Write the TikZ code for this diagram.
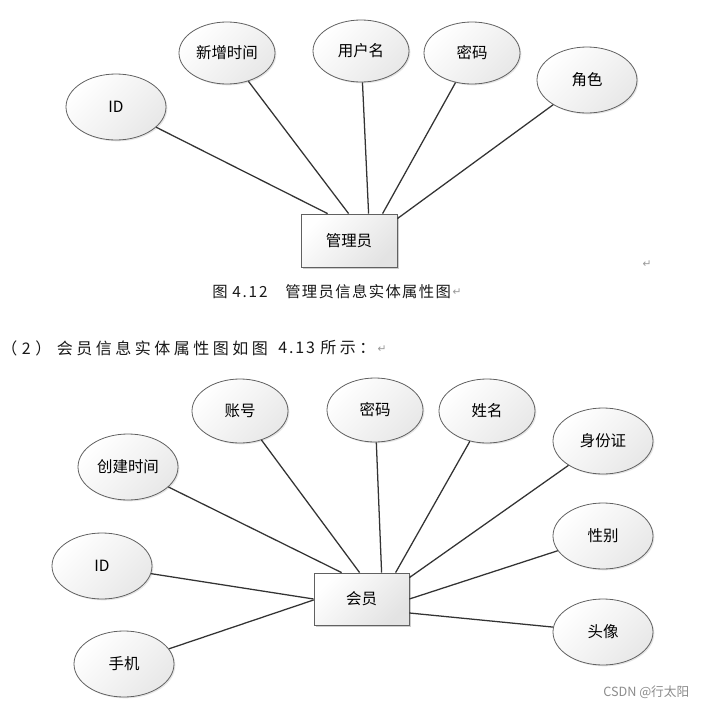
\documentclass[tikz,border=0pt]{standalone}
\usepackage{fontspec}
\setmainfont{Noto Sans CJK SC}
\newfontfamily\capfont[LetterSpace=9]{Noto Sans CJK SC}
\newfontfamily\bodyfont[LetterSpace=22]{Noto Sans CJK SC}
\newfontfamily\numfont[LetterSpace=12]{Noto Sans CJK SC}
\newfontfamily\symfont{DejaVu Sans}
\usetikzlibrary{shapes.geometric,shadows,calc}
\newcommand\lblfont{\fontsize{11.6pt}{13pt}\selectfont}
\begin{document}
\begin{tikzpicture}[x=0.75pt,y=-0.75pt,
  conn/.style={draw=black!80, line width=0.95pt},
  attr/.style={ellipse, draw=black!62, line width=0.6pt,
    minimum width=72pt, minimum height=46.5pt, inner sep=0pt,
    top color=white, bottom color=black!9, shading angle=45,
    drop shadow={shadow xshift=1pt,shadow yshift=-1pt,fill=black!22,opacity=0.45},
    font=\lblfont},
  attrm/.style={attr, minimum height=48pt},
  attrb/.style={attr, minimum width=75pt, minimum height=49.5pt},
  entity/.style={rectangle, draw=black!62, line width=0.6pt, inner sep=0pt,
    top color=white, bottom color=black!11, shading angle=45,
    drop shadow={shadow xshift=1.8pt,shadow yshift=-1.8pt,fill=black!35,opacity=0.55},
    font=\lblfont},
  txt/.style={anchor=west, inner sep=0pt, text=black!90},
  pmark/.style={inner sep=0pt, text=black!40, font=\symfont\fontsize{8pt}{9pt}\selectfont}
]
\useasboundingbox (0,0) rectangle (719,707);
\fill[white] (0,0) rectangle (719,707);

% ---------- diagram 4.12 ----------
\node[attrb] (aid)   at (116,107) {ID};
\node[attr]  (atime) at (227,53)  {新增时间};
\node[attr]  (auser) at (361,51)  {用户名};
\node[attr]  (apw)   at (472,53)  {密码};
\node[attrb] (arole) at (587,80)  {角色};
\node[entity, minimum width=72pt, minimum height=39.75pt] (admin) at (349,240.5) {管理员};

\draw[conn] (aid)   -- ($(admin.north west)+(27,0)$);
\draw[conn] (atime) -- ($(admin.north west)+(48,0)$);
\draw[conn] (auser) -- ($(admin.north west)+(68,0)$);
\draw[conn] (apw)   -- ($(admin.north west)+(82,0)$);
\draw[conn] (arole) -- ($(admin.north east)+(0,5)$);

\node[pmark] (pm1) at (647,264) {↵};

% ---------- caption and text ----------
\node[txt, font=\capfont\fontsize{11.5pt}{13pt}\selectfont] (c1) at (212,292) {图};
\node[txt, font=\numfont\fontsize{11.5pt}{13pt}\selectfont] (c2) at (232,292) {4.12};
\node[txt, font=\capfont\fontsize{11.5pt}{13pt}\selectfont] (c3) at (285,292) {管理员信息实体属性图};
\node[pmark] (pm2) at (457,292) {↵};

\node[txt, font=\fontsize{12pt}{13pt}\selectfont] (t1) at (1,348) {（\hspace{3.5pt}2\hspace{3.5pt}）};
\node[txt, font=\bodyfont\fontsize{12pt}{13pt}\selectfont] (t2) at (56.5,348) {会员信息实体属性图如图};
\node[txt, font=\numfont\fontsize{12pt}{13pt}\selectfont] (t3) at (278,348) {4.13};
\node[txt, font=\bodyfont\fontsize{12pt}{13pt}\selectfont] (t4) at (320,348) {所示：};
\node[pmark] (pm3) at (382,349) {↵};

% ---------- diagram 4.13 ----------
\node[attrb] (bctime) at (128,467) {创建时间};
\node[attrm] (bacc)   at (240,411) {账号};
\node[attrm] (bpw)    at (375,410) {密码};
\node[attrm] (bname)  at (487,411) {姓名};
\node[attrb] (bidc)   at (603,441) {身份证};
\node[attrb] (bsex)   at (603,536) {性别};
\node[attrb] (bid)    at (102,566) {ID};
\node[attrb] (bavt)   at (603,632) {头像};
\node[attrb] (bphone) at (124,664) {手机};
\node[entity, minimum width=71.25pt, minimum height=39pt] (member) at (361.5,599) {会员};

\draw[conn] (bctime) -- ($(member.north west)+(28,0)$);
\draw[conn] (bacc)   -- ($(member.north west)+(46,0)$);
\draw[conn] (bpw)    -- ($(member.north west)+(68,0)$);
\draw[conn] (bname)  -- ($(member.north west)+(82,0)$);
\draw[conn] (bidc)   -- ($(member.north east)+(0,5)$);
\draw[conn] (bsex)   -- (member.east);
\draw[conn] (bavt)   -- ($(member.east)+(0,14)$);
\draw[conn] (bid)    -- (member.west);
\draw[conn] (bphone) -- ($(member.west)+(0,1)$);

% ---------- watermark ----------
\node[txt, text=black!45, font=\fontsize{9.5pt}{11pt}\selectfont] (wm) at (603,692) {CSDN @行太阳};
\end{tikzpicture}
\end{document}
